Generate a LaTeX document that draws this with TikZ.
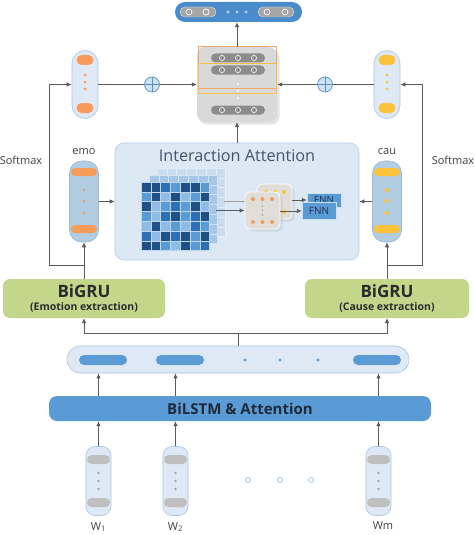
\documentclass[tikz,border=0pt]{standalone}
\usepackage{fontspec}
\setmainfont{Open Sans}
\usepackage{xcolor}
\usetikzlibrary{arrows.meta,shadows}
\definecolor{linegray}{HTML}{5A5A5A}
\definecolor{outblue}{HTML}{4A8BCB}
\definecolor{pillgray}{HTML}{A5A5A5}
\definecolor{dotblue}{HTML}{BCD6EE}
\definecolor{stackgray}{HTML}{D9D9D9}
\definecolor{barsgray}{HTML}{8C8C8C}
\definecolor{frameorange}{HTML}{F2A766}
\definecolor{frameyellow}{HTML}{F5C242}
\definecolor{vecfill}{HTML}{DFE9F5}
\definecolor{vecline}{HTML}{A9C5E4}
\definecolor{emoorange}{HTML}{F59C5A}
\definecolor{cauyellow}{HTML}{FCC23A}
\definecolor{emofill}{HTML}{B2CCE2}
\definecolor{emoline}{HTML}{99BBD9}
\definecolor{attfill}{HTML}{DCE8F4}
\definecolor{attline}{HTML}{B5CDE8}
\definecolor{titlegray}{HTML}{44546A}
\definecolor{mA}{HTML}{1F4F84}
\definecolor{mB}{HTML}{2E6FB5}
\definecolor{mC}{HTML}{5B9BD5}
\definecolor{mD}{HTML}{8FBBE4}
\definecolor{mE}{HTML}{C9DCF0}
\definecolor{mF}{HTML}{A7C7E8}
\definecolor{cardgray}{HTML}{E1DDD9}
\definecolor{fnnblue}{HTML}{5B9BD5}
\definecolor{fnntext}{HTML}{1F2F4F}
\definecolor{grugreen}{HTML}{C3D78B}
\definecolor{grutext}{HTML}{2B2B2B}
\definecolor{lstmblue}{HTML}{5B9BD5}
\definecolor{lstmtext}{HTML}{1E2A3A}
\definecolor{inbargray}{HTML}{BFBFBF}
\definecolor{indotgray}{HTML}{A6A6A6}
\definecolor{labelgray}{HTML}{404040}
\definecolor{plusfill}{HTML}{CFE2F3}
\definecolor{plusline}{HTML}{5B8FC8}
\begin{document}
\begin{tikzpicture}[x=1pt,y=-1pt,
    arr/.style={-{Latex[length=5pt,width=4.5pt]},draw=linegray,line width=0.8pt},
    ln/.style={draw=linegray,line width=0.8pt},
    vec/.style={draw=vecline,fill=vecfill,line width=0.6pt,inner sep=0pt},
    bar/.style={inner sep=0pt,draw=none},
    card/.style={bar,fill=cardgray,draw=white,line width=0.8pt,minimum width=35,rounded corners=5,drop shadow={opacity=0.15}},
    fnn/.style={fill=fnnblue,draw=white!70!fnnblue,inner sep=0pt,minimum width=34,text=fnntext,font=\fontsize{10}{12}\selectfont},
    gru/.style={fill=grugreen,minimum height=39,rounded corners=7,inner sep=0pt,align=center,font=\bfseries,text=grutext},
    plus/.style={draw=plusline,fill=plusfill,circle,minimum size=15,inner sep=0pt,line width=0.7pt,
        path picture={\draw[plusline,line width=0.7pt] (path picture bounding box.north) -- (path picture bounding box.south) (path picture bounding box.west) -- (path picture bounding box.east);}},
    lbl/.style={text=labelgray,font=\fontsize{11}{13}\selectfont}]
    \useasboundingbox[fill=white] (0,0) rectangle (474,535);

    \node[bar,fill=outblue,minimum width=127,minimum height=20,rounded corners=10] (out) at (238.5,12) {};
    \node[bar,fill=pillgray,draw=white!70!pillgray,minimum width=36,minimum height=10,rounded corners=5] (o1) at (198,12) {};
    \node[bar,fill=pillgray,draw=white!70!pillgray,minimum width=36,minimum height=10,rounded corners=5] (o2) at (276,12) {};
    \foreach \x in {189,206,267,285} \draw[white,line width=0.7] (\x,12) circle (3);
    \foreach \x in {228,237,246} \fill[dotblue] (\x,12) circle (1.6);

    \node[bar,fill=stackgray,minimum width=80,minimum height=75,rounded corners=8,drop shadow={opacity=0.2}] (stack) at (237,84.5) {};
    \node[bar,fill=barsgray,minimum width=54,minimum height=9,rounded corners=4.5] (s1) at (238,58) {};
    \node[bar,fill=barsgray,minimum width=54,minimum height=9,rounded corners=4.5] (s2) at (238,70) {};
    \node[bar,fill=barsgray,minimum width=54,minimum height=9,rounded corners=4.5] (s3) at (238,110) {};
    \foreach \y in {58,70,110} \foreach \x in {222,238,254} \draw[white!85!barsgray,line width=0.7] (\x,\y) circle (2.6);
    \foreach \y in {84,91,98} \fill[white] (238,\y) circle (1.2);
    \draw[frameorange,line width=0.9] (198,46) rectangle (276,88);
    \draw[frameyellow,line width=0.9] (198,63) rectangle (276,93);
    \draw[arr] (stack.north) to (stack.north |- out.south);

    \node[vec,minimum width=26,minimum height=68,rounded corners=13] (lt) at (85,84.5) {};
    \node[bar,fill=emoorange,minimum width=17,minimum height=10,rounded corners=5] (lt1) at (85,60) {};
    \node[bar,fill=emoorange,minimum width=17,minimum height=10,rounded corners=5] (lt2) at (85,108) {};
    \foreach \y in {75,82,89} \fill[emoorange] (85,\y) circle (1.5);
    \node[vec,minimum width=26,minimum height=68,rounded corners=13] (rt) at (387,84.5) {};
    \node[bar,fill=cauyellow,minimum width=17,minimum height=10,rounded corners=5] (rt1) at (387,60) {};
    \node[bar,fill=cauyellow,minimum width=17,minimum height=10,rounded corners=5] (rt2) at (387,108) {};
    \foreach \y in {75,82,89} \fill[cauyellow] (387,\y) circle (1.5);
    \node[plus] (pl) at (152,84.5) {};
    \node[plus] (pr) at (325,84.5) {};
    \draw[ln] (lt) to (pl);
    \draw[arr] (pl) to (stack);
    \draw[ln] (rt) to (pr);
    \draw[arr] (pr) to (stack);

    \node[lbl] (sml) at (21,160) {Softmax};
    \node[lbl] (smr) at (453,160) {Softmax};

    \node[draw=attline,fill=attfill,minimum width=244,minimum height=117,rounded corners=9,inner sep=0pt,line width=0.6] (att) at (237,201.5) {};
    \node[text=titlegray,font=\fontsize{16.2}{18}\selectfont] (title) at (237,156) {Interaction Attention};
    \draw[arr] (att) to (stack);

    \foreach \i in {0,...,6} \foreach \j in {0,...,6}
        \filldraw[fill=mE,draw=white!50!mE,line width=0.4] ({157+9.8*\i},{168+9.8*\j}) rectangle ++(9.8,9.8);
    \foreach \i in {0,...,6} \foreach \j in {0,...,6}
        \filldraw[fill=mF,draw=white!50!mF,line width=0.4] ({149+9.8*\i},{175+9.8*\j}) rectangle ++(9.8,9.8);
    \foreach \row [count=\j from 0] in {{A,A,B,C,A,A,C},{C,A,D,A,D,C,A},{A,D,C,B,C,A,D},{C,D,B,A,C,B,A},{D,A,D,C,D,B,C},{B,D,A,B,A,C,A},{A,A,C,D,A,C,B}}
        \foreach \c [count=\i from 0] in \row
            \filldraw[fill=m\c,draw=white!60!mC,line width=0.5] ({141+9.8*\i},{182+9.8*\j}) rectangle ++(9.8,9.8);

    \node[card,minimum height=35] (cb) at (274.5,201.5) {};
    \foreach \y in {192,212} \foreach \x in {266,275,284} \fill[cauyellow] (\x,\y) circle (2);
    \coordinate (m1) at (224,201.5);
    \coordinate (m2) at (216,210.5);
    \draw[ln,draw=linegray!60] (m1) to (m1 -| cb.west);
    \node[card,minimum height=37] (cf) at (262.5,210.5) {};
    \foreach \y in {199,222} \foreach \x in {253,262.5,272} \fill[emoorange] (\x,\y) circle (2);
    \foreach \y in {206,210.5,215} \fill[indotgray] (262.5,\y) circle (0.8);
    \draw[arr] (m2) to (m2 -| cf.west);
    \node[fnn,minimum height=14] (fb) at (324,200) {FNN};
    \node[fnn,minimum height=17] (ff) at (319,211) {FNN};
    \draw[arr] (cb.east |- fb) to (fb.west);
    \draw[arr] (cf.east |- ff) to (ff.west);

    \node[lbl] (emolbl) at (84,152) {emo};
    \node[vec,fill=emofill,draw=emoline,minimum width=29,minimum height=81,rounded corners=12] (emo) at (84,201.5) {};
    \node[bar,fill=emoorange,minimum width=26,minimum height=8,rounded corners=4] (emo1) at (84,172) {};
    \node[bar,fill=emoorange,minimum width=26,minimum height=8,rounded corners=4] (emo2) at (84,229) {};
    \foreach \y in {190,201,213} \fill[emoorange] (84,\y) circle (1.5);
    \node[lbl] (caulbl) at (387,152) {cau};
    \node[vec,fill=emofill,draw=emoline,minimum width=29,minimum height=81,rounded corners=12] (cau) at (387,201.5) {};
    \node[bar,fill=cauyellow,minimum width=26,minimum height=8,rounded corners=4] (cau1) at (387,172) {};
    \node[bar,fill=cauyellow,minimum width=26,minimum height=8,rounded corners=4] (cau2) at (387,229) {};
    \foreach \y in {190,201,213} \fill[cauyellow] (387,\y) circle (2);
    \draw[arr] (emo) to (att);
    \draw[arr] (cau) to (att);

    \node[gru,minimum width=162] (gl) at (84,298.5) {\fontsize{17}{19}\selectfont BiGRU\\[1pt]\fontsize{10.5}{12}\selectfont (Emotion extraction)};
    \node[gru,minimum width=164] (gr) at (387,298.5) {\fontsize{17}{19}\selectfont BiGRU\\[1pt]\fontsize{10.5}{12}\selectfont (Cause extraction)};
    \draw[arr] (gl) to (emo);
    \draw[arr] (gr) to (cau);
    \coordinate (fl) at (84,265);
    \coordinate (fbl) at (49,265);
    \coordinate (fr) at (387,265);
    \coordinate (fbr) at (422,265);
    \draw[arr] (fl) -- (fbl) |- (lt);
    \draw[arr] (fr) -- (fbr) |- (rt);

    \node[vec,minimum width=342,minimum height=27,rounded corners=13.5] (emb) at (238,359.5) {};
    \node[bar,fill=lstmblue,minimum width=48,minimum height=10,rounded corners=5] (e1) at (103,360) {};
    \node[bar,fill=lstmblue,minimum width=48,minimum height=10,rounded corners=5] (e2) at (180,360) {};
    \node[bar,fill=lstmblue,minimum width=48,minimum height=10,rounded corners=5] (e3) at (377,360) {};
    \foreach \x in {245,280,318} \fill[lstmblue] (\x,360) circle (1.6);
    \coordinate (j) at (238,333);
    \draw[ln] (emb) to (j);
    \draw[arr] (j) -| (gl);
    \draw[arr] (j) -| (gr);

    \node[bar,fill=lstmblue,minimum width=382,minimum height=25,rounded corners=8,font=\bfseries\fontsize{15}{17}\selectfont,text=lstmtext] (lstm) at (240,408.5) {BiLSTM \& Attention};

    \node[vec,minimum width=25,minimum height=69,rounded corners=9] (w1) at (98.5,481) {};
    \node[vec,minimum width=25,minimum height=69,rounded corners=9] (w2) at (175.5,481) {};
    \node[vec,minimum width=25,minimum height=69,rounded corners=9] (wm) at (378.5,481) {};
    \foreach \x in {98.5,175.5,378.5} {
        \fill[inbargray,rounded corners=4.5] ({\x-11.5},455) rectangle ({\x+11.5},464);
        \fill[inbargray,rounded corners=4.5] ({\x-11.5},498) rectangle ({\x+11.5},507);
        \foreach \y in {473,481,489} \fill[indotgray] (\x,\y) circle (1.4);
    }
    \foreach \x in {248,280,311} \draw[vecline,line width=0.8] (\x,480) circle (2.5);
    \draw[arr] (w1) to (w1 |- lstm.south);
    \draw[arr] (w2) to (w2 |- lstm.south);
    \draw[arr] (wm) to (wm |- lstm.south);
    \draw[arr] (w1 |- lstm.north) to (w1 |- emb.south);
    \draw[arr] (w2 |- lstm.north) to (w2 |- emb.south);
    \draw[arr] (wm |- lstm.north) to (wm |- emb.south);
    \node[lbl] (l1) at (98.5,527) {W\textsubscript{1}};
    \node[lbl] (l2) at (175.5,527) {W\textsubscript{2}};
    \node[lbl] (lm) at (383,526) {Wm};
\end{tikzpicture}
\end{document}
